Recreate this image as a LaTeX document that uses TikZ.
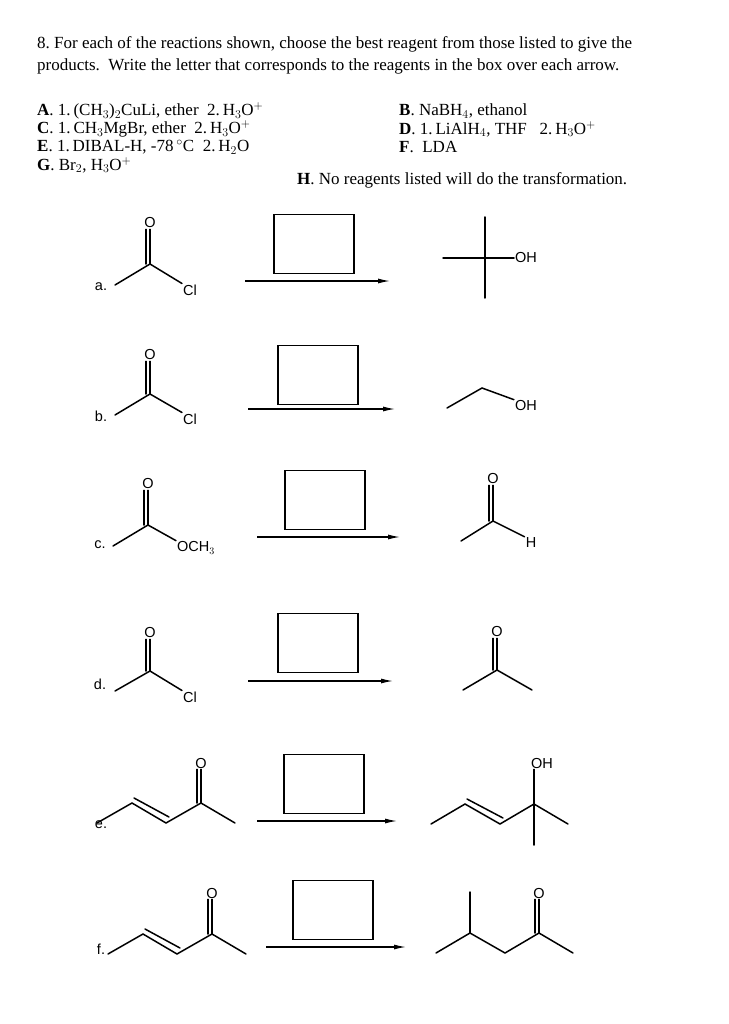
\documentclass[tikz,border=0pt]{standalone}
\usepackage{fontspec}
\setmainfont{Liberation Serif}
\newfontfamily\chem{Liberation Sans}
\usetikzlibrary{arrows.meta,calc}
\begin{document}
\begin{tikzpicture}[x=1pt,y=-1pt,
  bond/.style={line width=1.5pt,line cap=round},
  atom/.style={font=\chem\fontsize{14.5}{16}\selectfont,inner sep=1pt},
  lab/.style={font=\chem\fontsize{14.5}{16}\selectfont,inner sep=0pt},
  rbox/.style={draw,line width=1.4pt,minimum width=80pt,minimum height=59pt,inner sep=0pt},
  rarrow/.style={line width=1.2pt,-{Latex[length=12pt,width=5pt]}},
  hdr/.style={font=\fontsize{17}{22}\selectfont,anchor=west,inner sep=0pt}]
\useasboundingbox (0,0) rectangle (728,1024);
\fill[white] (0,0) rectangle (728,1024);
% header
\node[hdr,anchor=north west,align=left] (q) at (37,36) {8.\ For each of the reactions shown, choose the best reagent from those listed to give the\\products.\ \ Write the letter that corresponds to the reagents in the box over each arrow.};
\node[hdr] (rA) at (37,111) {\textbf{A}. 1.\,(CH$_3$)$_2$CuLi, ether\ \ 2.\,H$_3$O$^+$};
\node[hdr] (rC) at (37,129) {\textbf{C}. 1.\,CH$_3$MgBr, ether\ \ 2.\,H$_3$O$^+$};
\node[hdr] (rE) at (37,147) {\textbf{E}. 1.\,DIBAL-H, -78\,$^\circ$C\ \ 2.\,H$_2$O};
\node[hdr] (rG) at (37,165) {\textbf{G}. Br$_2$, H$_3$O$^+$};
\node[hdr] (rB) at (399,111) {\textbf{B}. NaBH$_4$, ethanol};
\node[hdr] (rD) at (399,129) {\textbf{D}. 1.\,LiAlH$_4$, THF\ \ \ 2.\,H$_3$O$^+$};
\node[hdr] (rF) at (399,147) {\textbf{F}.\ \ LDA};
\node[hdr] (rH) at (297,180) {\textbf{H}. No reagents listed will do the transformation.};
% row labels
\node[lab] (la) at (101,287) {a.};
\node[lab] (lb) at (101,416) {b.};
\node[lab] (lc) at (100,545) {c.};
\node[lab] (ld) at (100,684) {d.};
\node[lab] (le) at (101,825) {e.};
\node[lab] (lf) at (101,949) {f.};
% ---- a
\coordinate (a1) at (115,285); \coordinate (a2) at (150,264);
\node[atom] (aO) at (150,223) {O}; \node[atom] (aCl) at (190,290) {Cl};
\draw[bond] (a1) -- (a2) -- (aCl.north west);
\draw[bond] (a2) -- (aO.south); \draw[bond] ([xshift=-4pt]a2) -- ([xshift=-4pt]aO.south);
\node[rbox] (ba) at (314,244) {};
\coordinate (sa) at (245,281); \coordinate (ea) at (390,281);
\draw[rarrow] (sa) -- (ea);
\coordinate (pa) at (485,258);
\node[atom,anchor=west] (paOH) at (514,258) {OH};
\draw[bond] (485,217) -- (485,298); \draw[bond] (443,258) -- (paOH.west);
% ---- b
\coordinate (b1) at (115,415); \coordinate (b2) at (150,394);
\node[atom] (bO) at (150,355) {O}; \node[atom] (bCl) at (190,419) {Cl};
\draw[bond] (b1) -- (b2) -- (bCl.north west);
\draw[bond] (b2) -- (bO.south); \draw[bond] ([xshift=-4pt]b2) -- ([xshift=-4pt]bO.south);
\node[rbox] (bb) at (318,375) {};
\coordinate (sb) at (248,409); \coordinate (eb) at (395,409);
\draw[rarrow] (sb) -- (eb);
\coordinate (pb1) at (447,408); \coordinate (pb2) at (482,388);
\node[atom] (pbOH) at (526,406) {OH};
\draw[bond] (pb1) -- (pb2) -- (pbOH.north west);
% ---- c
\coordinate (c1) at (113,546); \coordinate (c2) at (148,525);
\node[atom] (cO) at (148,484) {O};
\node[atom,anchor=west] (cOMe) at (176,548) {OCH$_3$};
\draw[bond] (c1) -- (c2) -- (cOMe.north west);
\draw[bond] (c2) -- (cO.south); \draw[bond] ([xshift=-4pt]c2) -- ([xshift=-4pt]cO.south);
\node[rbox] (bc) at (325,500) {};
\coordinate (sc) at (257,537); \coordinate (ec) at (400,537);
\draw[rarrow] (sc) -- (ec);
\coordinate (pc1) at (461,541); \coordinate (pc2) at (493,521);
\node[atom] (pcO) at (493,479) {O}; \node[atom] (pcH) at (531,543) {H};
\draw[bond] (pc1) -- (pc2) -- (pcH.north west);
\draw[bond] (pc2) -- (pcO.south); \draw[bond] ([xshift=-4pt]pc2) -- ([xshift=-4pt]pcO.south);
% ---- d
\coordinate (d1) at (115,691); \coordinate (d2) at (150,671);
\node[atom] (dO) at (150,633) {O}; \node[atom] (dCl) at (190,697) {Cl};
\draw[bond] (d1) -- (d2) -- (dCl.north west);
\draw[bond] (d2) -- (dO.south); \draw[bond] ([xshift=-4pt]d2) -- ([xshift=-4pt]dO.south);
\node[rbox] (bd) at (318,643) {};
\coordinate (sd) at (248,681); \coordinate (ed) at (393,681);
\draw[rarrow] (sd) -- (ed);
\coordinate (pd1) at (463,690); \coordinate (pd2) at (497,670); \coordinate (pd3) at (532,690);
\node[atom] (pdO) at (497,632) {O};
\draw[bond] (pd1) -- (pd2) -- (pd3);
\draw[bond] (pd2) -- (pdO.south); \draw[bond] ([xshift=-4pt]pd2) -- ([xshift=-4pt]pdO.south);
% ---- e
\coordinate (e1) at (97,823); \coordinate (e2) at (132,803); \coordinate (e3) at (166,823);
\coordinate (e4) at (201,803); \coordinate (e5) at (235,823);
\node[atom] (eO) at (201,763) {O};
\draw[bond] (e1) -- (e2) -- (e3) -- (e4) -- (e5);
\draw[bond] ($(e2)+(2,-5)$) -- ($(e3)+(3,-6)$);
\draw[bond] (e4) -- (eO.south); \draw[bond] ([xshift=-4pt]e4) -- ([xshift=-4pt]eO.south);
\node[rbox] (be) at (324,784) {};
\coordinate (se) at (257,821); \coordinate (ee) at (397,821);
\draw[rarrow] (se) -- (ee);
\coordinate (pe1) at (431,824); \coordinate (pe2) at (465,804); \coordinate (pe3) at (500,824);
\coordinate (pe4) at (534,804); \coordinate (pe5) at (568,824); \coordinate (pe6) at (534,845);
\node[atom] (peOH) at (542,763) {OH};
\draw[bond] (pe1) -- (pe2) -- (pe3) -- (pe4) -- (pe5);
\draw[bond] ($(pe2)+(2,-5)$) -- ($(pe3)+(3,-6)$);
\draw[bond] (pe4) -- (pe6); \draw[bond] (pe4) -- (pe4 |- peOH.south);
% ---- f
\coordinate (f1) at (108,954); \coordinate (f2) at (143,934); \coordinate (f3) at (177,954);
\coordinate (f4) at (212,934); \coordinate (f5) at (246,954);
\node[atom] (fO) at (212,893) {O};
\draw[bond] (f1) -- (f2) -- (f3) -- (f4) -- (f5);
\draw[bond] ($(f2)+(2,-5)$) -- ($(f3)+(3,-6)$);
\draw[bond] (f4) -- (fO.south); \draw[bond] ([xshift=-4pt]f4) -- ([xshift=-4pt]fO.south);
\node[rbox] (bf) at (333,910) {};
\coordinate (sf) at (266,947); \coordinate (ef) at (406,947);
\draw[rarrow] (sf) -- (ef);
\coordinate (pf1) at (436,953); \coordinate (pf2) at (470,933); \coordinate (pf3) at (505,953);
\coordinate (pf4) at (539,933); \coordinate (pf5) at (573,953); \coordinate (pf6) at (470,892);
\node[atom] (pfO) at (539,893) {O};
\draw[bond] (pf1) -- (pf2) -- (pf3) -- (pf4) -- (pf5);
\draw[bond] (pf2) -- (pf6);
\draw[bond] (pf4) -- (pfO.south); \draw[bond] ([xshift=-4pt]pf4) -- ([xshift=-4pt]pfO.south);
\end{tikzpicture}
\end{document}
